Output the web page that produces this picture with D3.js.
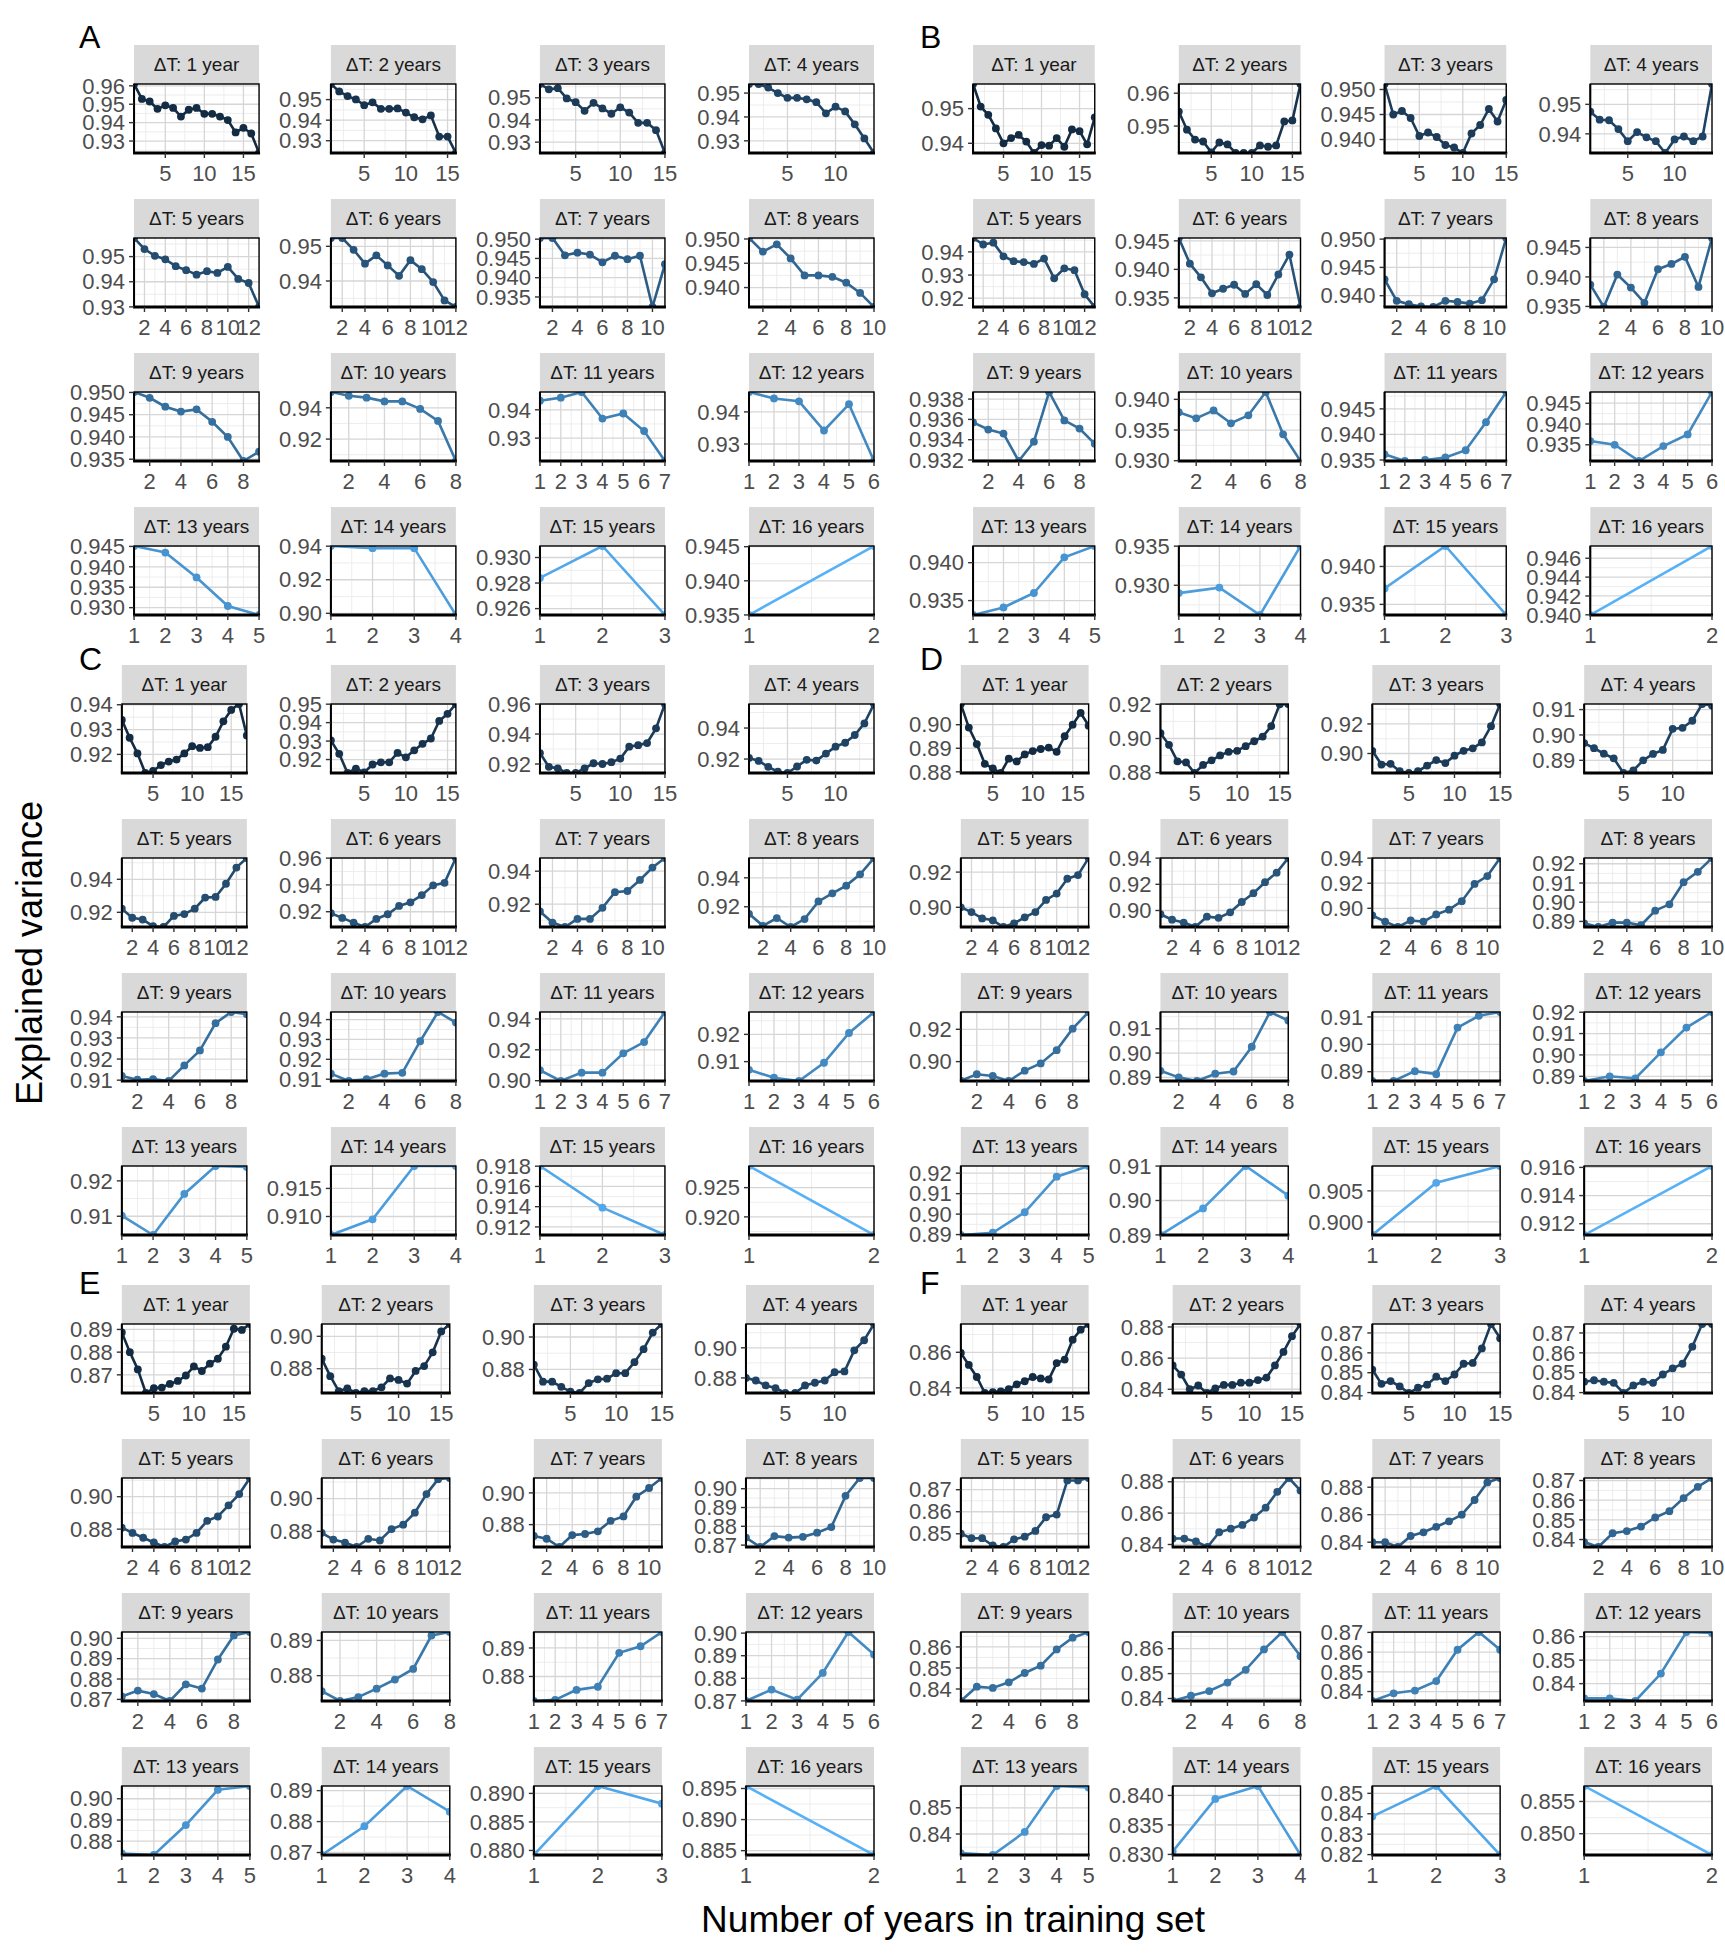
<!DOCTYPE html>
<html>
<head>
<meta charset="utf-8">
<script src="https://cdn.jsdelivr.net/npm/d3@7"></script>
<style>
  body { margin: 0; background: #fff; }
  svg { display: block; font-family: "Liberation Sans", Arial, Helvetica, sans-serif; }
</style>
</head>
<body>
<svg id="chart" width="1725" height="1956"></svg>
<script>
// ── DATA ──────────────────────────────────────────────────────────────────
// facet k (0..15) is ΔT = k+1 and holds 18-ΔT values (training years 1..n)
const deltaT = d3.range(1, 17);
const xTickStep = [5, 5, 5, 5, 2, 2, 2, 2, 2, 2, 1, 1, 1, 1, 1, 1];
const panelNames = ['A', 'B', 'C', 'D', 'E', 'F'];

const panelA = [
  [0.9610,0.9529,0.9515,0.9475,0.9494,0.9480,0.9433,0.9470,0.9480,0.9448,0.9448,0.9433,0.9414,0.9347,0.9372,0.9341,0.9235],
  [0.9576,0.9540,0.9517,0.9501,0.9473,0.9487,0.9455,0.9455,0.9457,0.9437,0.9414,0.9404,0.9423,0.9320,0.9320,0.9240],
  [0.9562,0.9538,0.9543,0.9497,0.9480,0.9441,0.9477,0.9452,0.9428,0.9457,0.9433,0.9387,0.9387,0.9354,0.9251],
  [0.9538,0.9538,0.9523,0.9500,0.9480,0.9480,0.9474,0.9462,0.9415,0.9443,0.9423,0.9369,0.9310,0.9249],
  [0.9574,0.9530,0.9503,0.9489,0.9462,0.9446,0.9428,0.9442,0.9435,0.9459,0.9411,0.9395,0.92995],
  [0.9524,0.9524,0.9490,0.9450,0.9474,0.9445,0.9415,0.9460,0.9434,0.9397,0.9344,0.9325],
  [0.9503,0.9503,0.9458,0.9465,0.9460,0.9440,0.9457,0.9448,0.9457,0.9324,0.9435],
  [0.9502,0.9474,0.9489,0.9460,0.9425,0.9425,0.9422,0.9410,0.9389,0.9360],
  [0.9501,0.9488,0.9468,0.9457,0.9462,0.9434,0.9400,0.9346,0.9367],
  [0.9501,0.9477,0.9465,0.9441,0.9441,0.9393,0.9316,0.9060],
  [0.9432,0.9443,0.9463,0.9369,0.9387,0.9325,0.9219],
  [0.9462,0.9442,0.9433,0.9342,0.9424,0.9247],
  [0.9451,0.9435,0.9374,0.9304,0.9282],
  [0.9401,0.9388,0.9388,0.8990],
  [0.9284,0.9309,0.9255],
  [0.93499,0.9451]
];
const stepA = [0.01,0.01,0.01,0.01, 0.01,0.01,0.005,0.005, 0.005,0.02,0.01,0.01, 0.005,0.02,0.002,0.005];

const panelB = [
  [0.9571,0.9506,0.9482,0.9443,0.9400,0.9415,0.9424,0.9405,0.9372,0.9395,0.9393,0.9415,0.9390,0.9440,0.9435,0.9397,0.9475],
  [0.9544,0.9489,0.9459,0.9453,0.9420,0.9450,0.9444,0.9418,0.9418,0.9418,0.9441,0.9437,0.9441,0.9514,0.9517,0.9628],
  [0.9511,0.9450,0.9457,0.9443,0.9407,0.9414,0.9405,0.9389,0.9384,0.9373,0.9412,0.9429,0.9461,0.9436,0.9479],
  [0.9475,0.9448,0.9446,0.9416,0.9375,0.9406,0.9388,0.9375,0.9335,0.9381,0.9391,0.9375,0.9391,0.9569],
  [0.9460,0.9432,0.9440,0.9381,0.9360,0.9356,0.9348,0.9371,0.9286,0.9329,0.9321,0.9217,0.9162],
  [0.9455,0.9410,0.9386,0.9358,0.9366,0.9373,0.9357,0.9374,0.9355,0.9391,0.9426,0.9334],
  [0.9429,0.9391,0.9385,0.9381,0.9380,0.9391,0.9389,0.9386,0.9392,0.9429,0.9502],
  [0.9387,0.9349,0.9404,0.9382,0.9356,0.9413,0.9422,0.9434,0.9383,0.9466],
  [0.9357,0.9350,0.9346,0.9319,0.9338,0.9387,0.9359,0.9351,0.9336],
  [0.9379,0.9369,0.9382,0.9361,0.9374,0.9412,0.9343,0.92995],
  [0.9361,0.9348,0.9350,0.9355,0.9369,0.9424,0.9483],
  [0.9359,0.9350,0.9311,0.9347,0.9375,0.9477],
  [0.9331,0.9341,0.9360,0.9407,0.9422],
  [0.9290,0.9297,0.9262,0.93502],
  [0.9371,0.9427,0.9336],
  [0.93998,0.9473]
];
const stepB = [0.01,0.01,0.005,0.01, 0.01,0.005,0.005,0.005, 0.002,0.005,0.005,0.005, 0.005,0.005,0.005,0.002];

const panelC = [
  [0.9339,0.9267,0.9204,0.9125,0.9133,0.9157,0.9171,0.9179,0.9204,0.9233,0.9226,0.9229,0.9271,0.9333,0.9379,0.9403,0.9276],
  [0.9304,0.9231,0.9127,0.9151,0.9130,0.9173,0.9185,0.9185,0.9236,0.9212,0.9250,0.9285,0.9314,0.9409,0.9448,0.9501],
  [0.9273,0.9181,0.9171,0.9140,0.9140,0.9171,0.9205,0.9200,0.9212,0.9236,0.9316,0.9326,0.9340,0.9438,0.96005],
  [0.9207,0.9188,0.9150,0.9118,0.9110,0.9152,0.9195,0.9190,0.9235,0.9280,0.9305,0.9355,0.9430,0.9555],
  [0.9222,0.9167,0.9156,0.9116,0.9111,0.9178,0.9189,0.9222,0.9289,0.9293,0.9373,0.9471,0.9529],
  [0.9189,0.9154,0.9119,0.9086,0.9146,0.9181,0.9243,0.9270,0.9324,0.9397,0.9416,0.9601],
  [0.9156,0.9089,0.9062,0.9111,0.9111,0.9178,0.9273,0.9280,0.9347,0.9422,0.9480],
  [0.9151,0.9068,0.9122,0.9060,0.9115,0.9237,0.9293,0.9346,0.9424,0.9537],
  [0.9120,0.9102,0.9105,0.9096,0.9170,0.9241,0.9370,0.9423,0.9412],
  [0.9128,0.9091,0.9100,0.9128,0.9132,0.9291,0.9438,0.9385],
  [0.9068,0.8998,0.9052,0.9052,0.9177,0.9250,0.9445],
  [0.9070,0.9041,0.9029,0.9096,0.9205,0.9282],
  [0.9102,0.9047,0.9163,0.9242,0.9239],
  [0.9067,0.9095,0.9190,0.9190],
  [0.91802,0.9139,0.9112],
  [0.9287,0.9169]
];
const stepC = [0.01,0.01,0.02,0.02, 0.02,0.02,0.02,0.02, 0.01,0.01,0.02,0.01, 0.01,0.005,0.002,0.005];

const panelD = [
  [0.9088,0.8988,0.8918,0.8834,0.8815,0.8795,0.8856,0.8844,0.8874,0.8888,0.8897,0.8903,0.8885,0.8951,0.9000,0.9050,0.8996],
  [0.9031,0.8963,0.8866,0.8860,0.8798,0.8845,0.8872,0.8901,0.8922,0.8928,0.8955,0.8984,0.9011,0.9073,0.9200,0.9202],
  [0.9018,0.8925,0.8930,0.8880,0.8868,0.8880,0.8918,0.8955,0.8935,0.8985,0.9018,0.9035,0.9075,0.9185,0.9335],
  [0.8968,0.8948,0.8926,0.8908,0.8850,0.8860,0.8900,0.8925,0.8941,0.9024,0.9028,0.9056,0.9122,0.9116],
  [0.9000,0.8973,0.8937,0.8926,0.8888,0.8909,0.8943,0.8973,0.9042,0.9078,0.9162,0.9183,0.9280],
  [0.8972,0.8930,0.8908,0.8874,0.8953,0.8944,0.8986,0.9065,0.9132,0.9216,0.9289,0.9401],
  [0.8943,0.8894,0.8851,0.8903,0.8894,0.8951,0.8989,0.9057,0.9194,0.9257,0.9401],
  [0.8890,0.8871,0.8894,0.8894,0.8880,0.8956,0.8989,0.9104,0.9158,0.9230],
  [0.8882,0.8922,0.8911,0.8880,0.8944,0.8989,0.9071,0.9204,0.9307],
  [0.8927,0.8900,0.8885,0.8915,0.8924,0.9026,0.9169,0.9134],
  [0.8866,0.8866,0.8902,0.8891,0.9061,0.9104,0.9118],
  [0.8878,0.8900,0.8890,0.9012,0.9128,0.9201],
  [0.8898,0.8909,0.9009,0.9183,0.9235],
  [0.88998,0.8977,0.91002,0.9014],
  [0.8979,0.9063,0.9090],
  [0.9112,0.9161]
];
const stepD = [0.01,0.02,0.02,0.01, 0.02,0.02,0.02,0.01, 0.02,0.01,0.01,0.01, 0.01,0.01,0.005,0.002];

const panelE = [
  [0.8887,0.8800,0.8724,0.8620,0.8641,0.8644,0.8660,0.8673,0.8697,0.8737,0.8717,0.8749,0.8771,0.8824,0.8903,0.8898,0.8924],
  [0.8862,0.8754,0.8662,0.8678,0.8650,0.8662,0.8662,0.8685,0.8740,0.8731,0.8708,0.8786,0.8816,0.8901,0.9030,0.9076],
  [0.8830,0.8725,0.8725,0.8693,0.8664,0.8655,0.8716,0.8739,0.8743,0.8777,0.8777,0.8845,0.8925,0.9027,0.9080],
  [0.8800,0.8783,0.8750,0.8733,0.8700,0.8700,0.8750,0.8768,0.8783,0.8838,0.8843,0.8983,0.9050,0.9158],
  [0.8809,0.8777,0.8747,0.8718,0.8690,0.8724,0.8736,0.8777,0.8851,0.8878,0.8947,0.9016,0.9115],
  [0.8791,0.8750,0.8732,0.8705,0.8755,0.8745,0.8814,0.8841,0.8914,0.9027,0.9118,0.9125],
  [0.8729,0.8711,0.8659,0.8734,0.8741,0.8758,0.8824,0.8852,0.8976,0.9031,0.9094],
  [0.8740,0.8690,0.8748,0.8740,0.8744,0.8766,0.8796,0.8962,0.9057,0.9057],
  [0.8714,0.8743,0.8726,0.8692,0.8774,0.8753,0.8896,0.9014,0.9031],
  [0.8756,0.8728,0.8739,0.8763,0.8789,0.8819,0.8914,0.8924],
  [0.8714,0.8718,0.8753,0.8764,0.8883,0.8906,0.8956],
  [0.86995,0.8750,0.8705,0.8824,0.9005,0.8905],
  [0.8742,0.8735,0.8876,0.9042,0.9060],
  [0.8692,0.8785,0.8915,0.8832],
  [0.8792,0.8913,0.8882],
  [0.8954,0.8843]
];
const stepE = [0.01,0.02,0.02,0.02, 0.02,0.02,0.02,0.01, 0.01,0.01,0.01,0.01, 0.01,0.01,0.005,0.005];

const panelF = [
  [0.8596,0.8529,0.8461,0.8371,0.8376,0.8380,0.8392,0.8420,0.8437,0.8461,0.8453,0.8447,0.8539,0.8559,0.8671,0.8727,0.8759],
  [0.8553,0.8494,0.8400,0.8424,0.8376,0.8405,0.8428,0.8428,0.8442,0.8442,0.8459,0.8475,0.8553,0.8640,0.8741,0.8819],
  [0.8516,0.8444,0.8458,0.8431,0.8398,0.8425,0.8440,0.8480,0.8458,0.8491,0.8545,0.8549,0.8622,0.8745,0.8673],
  [0.8455,0.8462,0.8455,0.8449,0.8398,0.8436,0.8455,0.8449,0.8491,0.8522,0.8545,0.8631,0.8745,0.8745],
  [0.8500,0.8480,0.8480,0.8447,0.8440,0.8475,0.8487,0.8513,0.8575,0.8587,0.8742,0.8742,0.8753],
  [0.8438,0.8438,0.8419,0.8384,0.8478,0.8501,0.8525,0.8572,0.8635,0.8736,0.8824,0.8744],
  [0.8400,0.8400,0.8365,0.8445,0.8472,0.8512,0.8552,0.8600,0.8707,0.8835,0.8867],
  [0.8387,0.8362,0.8432,0.8443,0.8466,0.8512,0.8544,0.8611,0.8668,0.8713],
  [0.8343,0.8411,0.8405,0.8432,0.8476,0.8511,0.8588,0.8644,0.8671],
  [0.8390,0.8411,0.8430,0.8464,0.8515,0.8597,0.8667,0.8570],
  [0.8352,0.8391,0.8405,0.8453,0.8612,0.8702,0.8612],
  [0.8337,0.8337,0.8326,0.8443,0.8620,0.8616],
  [0.8327,0.8320,0.8408,0.8583,0.8577],
  [0.8305,0.8394,0.8416,0.8299],
  [0.8387,0.8536,0.8198],
  [0.8574,0.8467]
];
const stepF = [0.02,0.02,0.01,0.01, 0.01,0.02,0.02,0.01, 0.01,0.01,0.01,0.01, 0.01,0.005,0.01,0.005];

const panelValues = [panelA, panelB, panelC, panelD, panelE, panelF];
const panelSteps = [stepA, stepB, stepC, stepD, stepE, stepF];

// ── LAYOUT ────────────────────────────────────────────────────────────────
const svg = d3.select('#chart');
const colSpan = [[70, 874], [909, 1712]];   // axis start / right end of the two subplot columns
const blockTop = [45, 665, 1285];
const rowPitch = 154, stripH = 39, panelH = 69, gap = 20;
const tickLen = 5, tickPad = 4, tickFont = 22, stripFont = 19;

const colour = d3.scaleLinear().domain([1, 16])
  .range(['#132B43', '#56B1F7']).interpolate(d3.interpolateLab);

svg.append('rect').attr('width', 1725).attr('height', 1956).attr('fill', '#fff');

const measurer = svg.append('text').attr('font-size', tickFont).attr('visibility', 'hidden');
function textW(s) { measurer.text(s); return measurer.node().getComputedTextLength(); }

function ticksIn(lo, hi, step, offset = 0) {
  const out = [];
  for (let k = Math.ceil((lo - offset) / step - 1e-6); k * step + offset <= hi + step * 1e-6; k++) {
    out.push(Math.round((k * step + offset) * 1e6) / 1e6);
  }
  return out;
}

let clipId = 0;

panelValues.forEach((vals, si) => {
  const col = si % 2, blk = Math.floor(si / 2);
  const [x0, x1] = colSpan[col];
  const steps = panelSteps[si];

  const facets = vals.map((v, k) => {
    const ext = d3.extent(v);
    const fmt = d3.format(steps[k] < 0.01 ? '.3f' : '.2f');
    const yt = ticksIn(ext[0], ext[1], steps[k]);
    return { k, v, ext, yt, fmt, labels: yt.map(fmt) };
  });

  // axis space per facet column = widest tick label in that column
  const axisW = [0, 1, 2, 3].map(c =>
    d3.max(facets.filter(f => f.k % 4 === c), f => d3.max(f.labels, textW)) + tickLen + tickPad);
  const pw = (x1 - x0 - d3.sum(axisW) - 3 * gap) / 4;
  const lefts = [];
  let cur = x0;
  axisW.forEach(w => { cur += w; lefts.push(cur); cur += pw + gap; });

  facets.forEach(f => {
    const c = f.k % 4, r = Math.floor(f.k / 4);
    const dt = deltaT[f.k];
    const n = f.v.length;
    const top = blockTop[blk] + r * rowPitch;
    const g = svg.append('g').attr('transform', `translate(${lefts[c]},${top})`);

    // strip
    g.append('rect').attr('width', pw).attr('height', stripH).attr('fill', '#D9D9D9');
    g.append('text').attr('x', pw / 2).attr('y', stripH / 2).attr('dy', '0.35em')
      .attr('text-anchor', 'middle').attr('font-size', stripFont).attr('fill', '#1A1A1A')
      .text(`ΔT: ${dt} ${dt === 1 ? 'year' : 'years'}`);

    const p = g.append('g').attr('transform', `translate(0,${stripH})`);
    const x = d3.scaleLinear().domain([1, n]).range([0, pw]);
    const y = d3.scaleLinear().domain(f.ext).range([panelH, 0]);
    const xs = xTickStep[f.k];
    const xt = ticksIn(1, n, xs);
    const xMinor = ticksIn(1, n, xs, xs / 2).filter(d => !xt.includes(d));
    const yMinor = ticksIn(f.ext[0], f.ext[1], steps[f.k], steps[f.k] / 2);

    p.append('rect').attr('width', pw).attr('height', panelH).attr('fill', '#fff');

    p.selectAll('.gminx').data(xMinor).join('line')
      .attr('x1', d => x(d)).attr('x2', d => x(d)).attr('y1', 0).attr('y2', panelH)
      .attr('stroke', '#EBEBEB').attr('stroke-width', 0.9);
    p.selectAll('.gminy').data(yMinor).join('line')
      .attr('y1', d => y(d)).attr('y2', d => y(d)).attr('x1', 0).attr('x2', pw)
      .attr('stroke', '#EBEBEB').attr('stroke-width', 0.9);
    p.selectAll('.gmajx').data(xt).join('line')
      .attr('x1', d => x(d)).attr('x2', d => x(d)).attr('y1', 0).attr('y2', panelH)
      .attr('stroke', '#D6D6D6').attr('stroke-width', 1.3);
    p.selectAll('.gmajy').data(f.yt).join('line')
      .attr('y1', d => y(d)).attr('y2', d => y(d)).attr('x1', 0).attr('x2', pw)
      .attr('stroke', '#D6D6D6').attr('stroke-width', 1.3);

    const cid = `clip${clipId++}`;
    p.append('clipPath').attr('id', cid).append('rect').attr('width', pw).attr('height', panelH);
    const data = f.v.map((v, i) => [i + 1, v]);
    const lg = p.append('g').attr('clip-path', `url(#${cid})`);
    lg.append('path').datum(data)
      .attr('d', d3.line().x(d => x(d[0])).y(d => y(d[1])))
      .attr('fill', 'none').attr('stroke', colour(dt)).attr('stroke-width', 2.6);
    lg.selectAll('circle').data(data).join('circle')
      .attr('cx', d => x(d[0])).attr('cy', d => y(d[1])).attr('r', 3.9)
      .attr('fill', colour(dt));

    // border and axis lines
    p.append('rect').attr('width', pw).attr('height', panelH)
      .attr('fill', 'none').attr('stroke', '#000').attr('stroke-width', 1.4);
    p.append('line').attr('x1', -1).attr('x2', pw + 1).attr('y1', panelH).attr('y2', panelH)
      .attr('stroke', '#000').attr('stroke-width', 2.8);
    p.append('line').attr('x1', 0).attr('x2', 0).attr('y1', 0).attr('y2', panelH)
      .attr('stroke', '#000').attr('stroke-width', 2);

    // ticks and labels
    p.selectAll('.tx').data(xt).join('line')
      .attr('x1', d => x(d)).attr('x2', d => x(d))
      .attr('y1', panelH).attr('y2', panelH + tickLen)
      .attr('stroke', '#333').attr('stroke-width', 1.4);
    p.selectAll('.lx').data(xt).join('text')
      .attr('x', d => x(d)).attr('y', panelH + 28)
      .attr('text-anchor', 'middle').attr('font-size', tickFont).attr('fill', '#4D4D4D')
      .text(d => d);
    p.selectAll('.ty').data(f.yt).join('line')
      .attr('y1', d => y(d)).attr('y2', d => y(d))
      .attr('x1', -tickLen).attr('x2', 0)
      .attr('stroke', '#333').attr('stroke-width', 1.4);
    p.selectAll('.ly').data(f.yt).join('text')
      .attr('x', -tickLen - tickPad).attr('y', d => y(d)).attr('dy', '0.35em')
      .attr('text-anchor', 'end').attr('font-size', tickFont).attr('fill', '#4D4D4D')
      .text(d => f.fmt(d));
  });

  // panel letter
  svg.append('text')
    .attr('x', col === 0 ? 79 : 920)
    .attr('y', [48, 670, 1294][blk])
    .attr('font-size', 32).attr('fill', '#000')
    .text(panelNames[si]);
});

// axis titles
svg.append('text')
  .attr('transform', 'translate(42,953) rotate(-90)')
  .attr('text-anchor', 'middle').attr('font-size', 36).attr('fill', '#000')
  .text('Explained variance');

svg.append('text')
  .attr('x', 953).attr('y', 1932)
  .attr('text-anchor', 'middle').attr('font-size', 37).attr('fill', '#000')
  .text('Number of years in training set');

measurer.remove();
</script>
</body>
</html>
